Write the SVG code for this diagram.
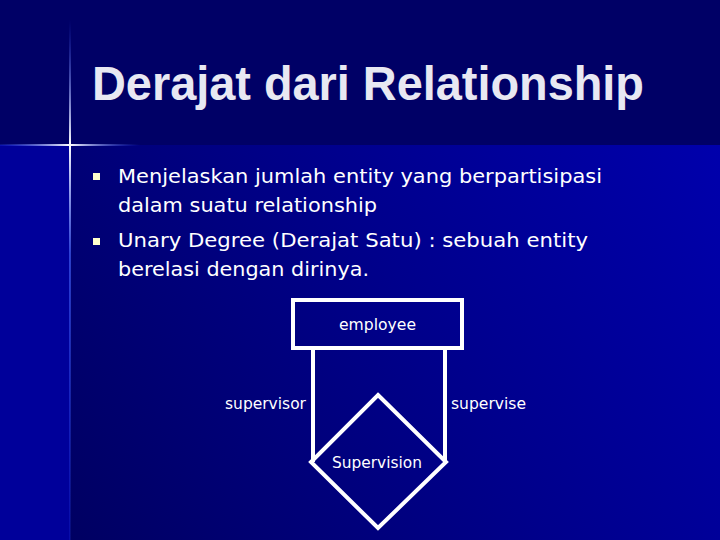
<svg xmlns="http://www.w3.org/2000/svg" width="720" height="540" viewBox="0 0 720 540">
  <defs>
    <linearGradient id="bodyGrad" x1="70" y1="540" x2="720" y2="145" gradientUnits="userSpaceOnUse">
      <stop offset="0" stop-color="#000062"/>
      <stop offset="0.55" stop-color="#00008c"/>
      <stop offset="1" stop-color="#0000ac"/>
    </linearGradient>
    <linearGradient id="vLine" x1="0" y1="20" x2="0" y2="540" gradientUnits="userSpaceOnUse">
      <stop offset="0" stop-color="#3050ff" stop-opacity="0"/>
      <stop offset="0.24" stop-color="#ffffff" stop-opacity="1"/>
      <stop offset="0.45" stop-color="#4a6aff" stop-opacity="0.6"/>
      <stop offset="1" stop-color="#3050ff" stop-opacity="0.15"/>
    </linearGradient>
    <linearGradient id="hLine" x1="0" y1="0" x2="140" y2="0" gradientUnits="userSpaceOnUse">
      <stop offset="0" stop-color="#3050ff" stop-opacity="0.2"/>
      <stop offset="0.5" stop-color="#ffffff" stop-opacity="1"/>
      <stop offset="1" stop-color="#3050ff" stop-opacity="0"/>
    </linearGradient>
    <style>
      .title { font-family: "Liberation Sans", Arial, sans-serif; font-weight: bold; font-size: 48px; fill: #e8e8f2; }
      .body { font-family: "DejaVu Sans", Verdana, sans-serif; font-size: 20px; fill: #ffffff; }
      .lbl { font-family: "DejaVu Sans", Verdana, sans-serif; font-size: 15px; fill: #ffffff; }
      .shape { fill: none; stroke: #ffffff; stroke-width: 4; }
      .bullet { fill: #ffffcc; }
    </style>
  </defs>

  <!-- background -->
  <rect x="0" y="0" width="720" height="540" fill="#000066"/>
  <rect x="70" y="145" width="650" height="395" fill="url(#bodyGrad)"/>
  <rect x="0" y="145" width="70" height="395" fill="#00009a"/>
  <rect x="69" y="20" width="2" height="520" fill="url(#vLine)"/>
  <rect x="0" y="144" width="140" height="2" fill="url(#hLine)"/>

  <!-- title -->
  <text class="title" x="92" y="100" textLength="552" lengthAdjust="spacingAndGlyphs">Derajat dari Relationship</text>

  <!-- bullets -->
  <rect class="bullet" x="93" y="173" width="7" height="7"/>
  <rect class="bullet" x="93" y="238" width="7" height="7"/>
  <text class="body" x="118" y="183" textLength="484" lengthAdjust="spacingAndGlyphs">Menjelaskan jumlah entity yang berpartisipasi</text>
  <text class="body" x="118" y="212" textLength="259" lengthAdjust="spacingAndGlyphs">dalam suatu relationship</text>
  <text class="body" x="118" y="247" textLength="470" lengthAdjust="spacingAndGlyphs">Unary Degree (Derajat Satu) : sebuah entity</text>
  <text class="body" x="118" y="276" textLength="251" lengthAdjust="spacingAndGlyphs">berelasi dengan dirinya.</text>

  <!-- connectors -->
  <g id="connectors">
    <line class="shape" x1="313" y1="348" x2="313" y2="462"/>
    <line class="shape" x1="445" y1="348" x2="445" y2="462"/>
    <text class="lbl" x="225" y="409" textLength="81" lengthAdjust="spacingAndGlyphs">supervisor</text>
    <text class="lbl" x="451" y="409" textLength="75" lengthAdjust="spacingAndGlyphs">supervise</text>
  </g>

  <!-- entity -->
  <g id="employee">
    <rect class="shape" x="293" y="300" width="169" height="48"/>
    <text class="lbl" x="339" y="330" textLength="77" lengthAdjust="spacingAndGlyphs">employee</text>
  </g>

  <!-- relationship -->
  <g id="supervision">
    <polygon class="shape" points="378,395 446,462 378,528 311,462"/>
    <text class="lbl" x="332" y="468" textLength="90" lengthAdjust="spacingAndGlyphs">Supervision</text>
  </g>
</svg>
